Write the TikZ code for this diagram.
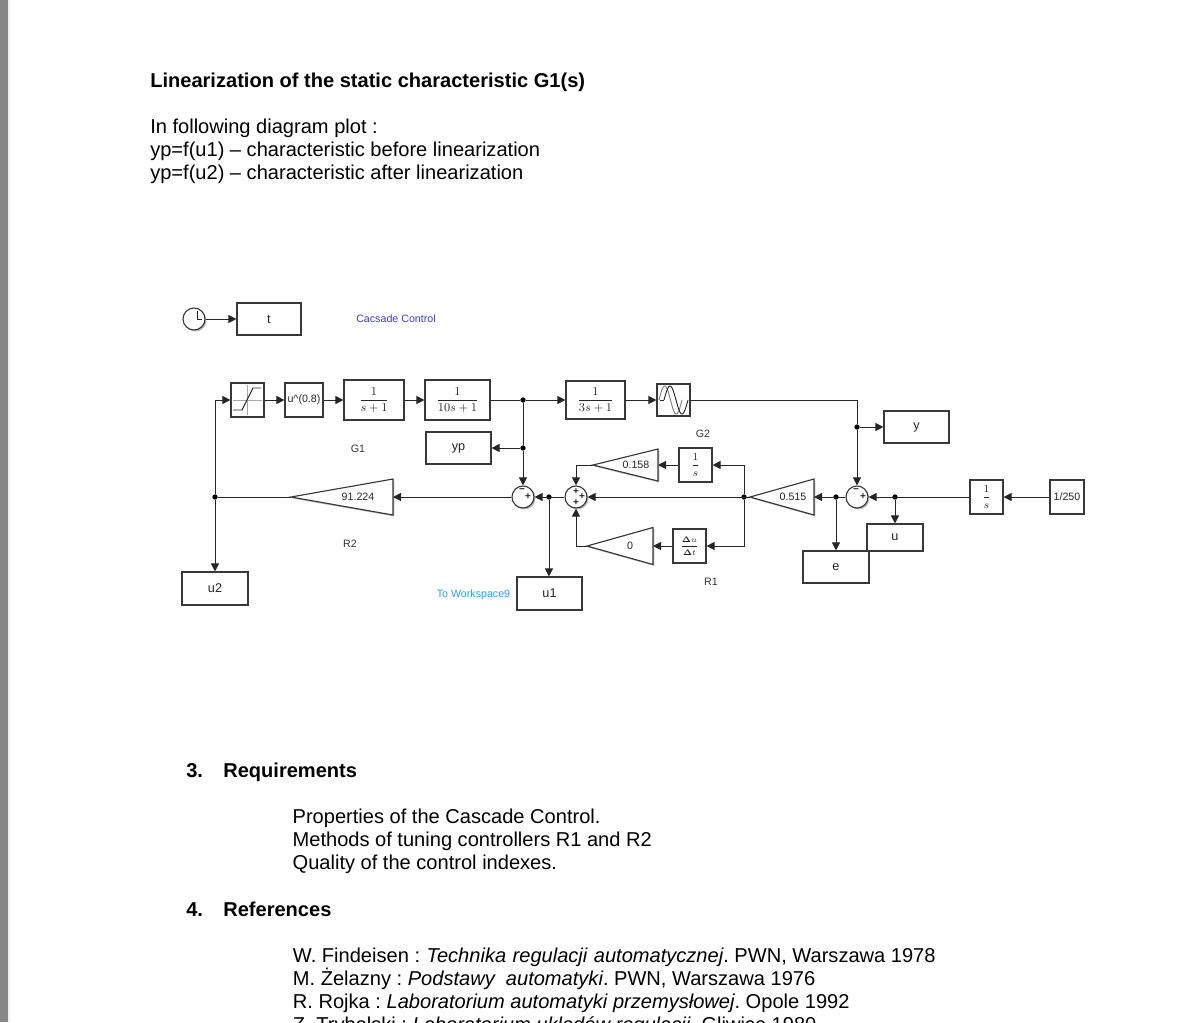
\documentclass[tikz,border=0pt]{standalone}
\usepackage[no-math]{fontspec}
\setmainfont{Liberation Sans}
\usetikzlibrary{arrows.meta,shadows,shapes.geometric,calc}
\definecolor{wirecol}{gray}{0.15}
\definecolor{boxcol}{gray}{0.22}
\definecolor{cacblue}{HTML}{3A3AE8}
\definecolor{wsblue}{HTML}{2C9CF5}
\frenchspacing
\tikzset{
  shad/.style={drop shadow={shadow xshift=1.1pt,shadow yshift=-1.1pt,fill=black!55,opacity=.5}},
  blk/.style={draw=boxcol,line width=0.85pt,fill=white,shad,rectangle,inner sep=0pt,font=\fontsize{9.5}{11}\selectfont,text=black!85},
  sblk/.style={blk,font=\fontsize{8}{10}\selectfont},
  summer/.style={draw=boxcol,line width=0.85pt,fill=white,shad,circle,inner sep=0pt,minimum size={22*0.75pt}},
  gainb/.style={draw=boxcol,line width=0.85pt,fill=white,shad,isosceles triangle,isosceles triangle stretches,shape border rotate=180,inner sep=0pt,outer sep=0pt,anchor=apex},
  gtxt/.style={font=\fontsize{8}{10}\selectfont,text=black!85,inner sep=0pt},
  dot/.style={circle,fill=black,inner sep=0pt,minimum size=4pt},
  wire/.style={draw=wirecol,line width=0.75pt},
  arr/.style={wire,-{Triangle[length=6pt,width=6pt]}},
  lab/.style={font=\fontsize{8}{10}\selectfont,text=black!80,inner sep=0pt},
  sign/.style={font=\fontsize{7.5}{8}\selectfont\bfseries,inner sep=0pt,text=black!85},
  body/.style={font=\fontsize{15.05}{18}\selectfont,anchor=base west,inner sep=0pt},
  bodyb/.style={font=\fontsize{15.05}{18}\selectfont\bfseries,anchor=base west,inner sep=0pt},
}
\newcommand\blkat[7][blk]{\node[#1,minimum width={(#5-#3)*0.75pt},minimum height={(#6-#4)*0.75pt}] (#2) at ({(#3+#5)/2},{(#4+#6)/2}) {#7};}
\newcommand\gainat[7]{\node[gainb,minimum height={(#4-#3)*0.75pt},minimum width={(#6)*0.75pt}] (#1) at (#3,#5) {};\node[gtxt] (#1t) at (#7,#5) {#2};}
\begin{document}
\begin{tikzpicture}[x=0.75pt,y=-0.75pt]
\useasboundingbox (0,0) rectangle (1204,1022);
\clip (0,0) rectangle (1204,1022);
\fill[white] (0,0) rectangle (1204,1022);
\fill[black!47] (0,0) rectangle (8,1022);
\fill[black!6] (8,0) rectangle (10,1022);
% text
\node[bodyb] (title) at (150,87) {Linearization of the static characteristic G1(s)};
\node[body] (p1) at (150,133) {In following diagram plot :};
\node[body] (p2) at (150,156) {yp=f(u1) – characteristic before linearization};
\node[body] (p3) at (150,179) {yp=f(u2) – characteristic after linearization};
\node[bodyb] (s3) at (186,777) {3.};
\node[bodyb] (s3t) at (223,777) {Requirements};
\node[body] (r1) at (292.4,823) {Properties of the Cascade Control.};
\node[body] (r2) at (292.4,846) {Methods of tuning controllers R1 and R2};
\node[body] (r3) at (292.4,869) {Quality of the control indexes.};
\node[bodyb] (s4) at (186,916) {4.};
\node[bodyb] (s4t) at (223,916) {References};
\node[body] (b1) at (292.7,962) {W. Findeisen :\hspace{.7pt} \textit{Technika\hspace{.7pt} regulacji\hspace{.7pt} automatycznej}. PWN, Warszawa 1978};
\node[body] (b2) at (292.7,985) {M. Żelazny : \textit{Podstawy\ \ automatyki}. PWN, Warszawa 1976};
\node[body] (b3) at (292.7,1008) {R. Rojka : \textit{Laboratorium automatyki przemysłowej}. Opole 1992};
\node[body] (b4) at (292.7,1031) {Z. Trybalski : \textit{Laboratorium układów regulacji}. Gliwice 1980};
% labels
\node[lab,text=cacblue] (cc) at (396,318.5) {Cacsade Control};
\node[lab] (lg1) at (358,449) {G1};
\node[lab] (lg2) at (703,434) {G2};
\node[lab] (lr2) at (350,543.5) {R2};
\node[lab] (lr1) at (711,581.5) {R1};
\node[lab,text=wsblue] (ws) at (473.5,595) {To Workspace9};
% blocks
\node[summer] (clk) at (194,319) {};
\blkat{tb}{237}{303}{301}{335}{t}
\blkat{sat}{231}{383}{264}{417}{}
\blkat[sblk]{pw}{285}{383}{323}{417}{u\textasciicircum(0.8)}
\blkat{gone}{344}{380}{404}{420}{$\displaystyle\frac{1}{s+1}$}
\blkat{gten}{425}{380}{490}{420}{$\displaystyle\frac{1}{10s+1}$}
\blkat{gthree}{566}{381}{625}{419}{$\displaystyle\frac{1}{3s+1}$}
\blkat{sine}{657}{384}{690}{416}{}
\blkat{yb}{884}{411}{949}{443}{y}
\blkat{yp}{426}{432}{491}{464}{yp}
\blkat{intg}{679}{448}{712}{482}{\fontsize{8}{9}\selectfont$\displaystyle\frac{1}{s}$}
\blkat{dlt}{673}{529}{706}{563}{\fontsize{6}{7}\selectfont$\displaystyle\frac{\mathbf{\Delta} u}{\mathbf{\Delta} t}$}
\blkat{eb}{803}{551}{869}{583}{e}
\blkat{ub}{867}{524}{923}{551}{u}
\blkat{intr}{970}{480}{1003}{514}{\fontsize{8}{9}\selectfont$\displaystyle\frac{1}{s}$}
\blkat[sblk]{rate}{1050}{480}{1084}{514}{1/250}
\blkat{utwo}{182}{572}{248}{605}{u2}
\blkat{uone}{517}{577}{582}{610}{u1}
\gainat{gr}{91.224}{291}{393}{497}{36}{358}
\gainat{ga}{0.158}{593}{658}{465}{32}{636}
\gainat{gb}{0}{587}{653}{546}{37}{630}
\gainat{gc}{0.515}{750}{814}{497}{36}{793}
\node[summer] (sl) at (523,497) {};
\node[summer] (sm) at (576,497) {};
\node[summer] (sr) at (857,497) {};
\node[sign] (sl1) at (522,491) {−};
\node[sign] (sl2) at (528,497) {+};
\node[sign] (sm1) at (576,491.5) {+};
\node[sign] (sm2) at (582,497) {+};
\node[sign] (sm3) at (576,502.5) {+};
\node[sign] (sr1) at (856,491) {−};
\node[sign] (sr2) at (863,497) {+};
% icons
\draw[black!35,line width=0.4pt] (247,385)--(247,415) (233,400)--(262,400);
\draw[black!85,line width=0.7pt] (233,410)--(242,410)--(253,388)--(261,388);
\draw[black!50,line width=0.7pt,domain=0:360,samples=50,smooth] plot ({659+\x/360*23},{400-14*sin(\x)});
\draw[black!85,line width=0.7pt] (660,400)--(664,400);
\draw[black!85,line width=0.7pt,domain=0:360,samples=50,smooth] plot ({664+\x/360*24},{400-14*sin(\x)});
\draw[black!85,line width=0.7pt] (197,311)--(197,319)--(202,319);
% junctions
\node[dot] (j1) at (523,400) {};
\node[dot] (j2) at (523,448) {};
\node[dot] (j3) at (549,497) {};
\node[dot] (j4) at (215,497) {};
\node[dot] (j5) at (744,497) {};
\node[dot] (j6) at (836,497) {};
\node[dot] (j7) at (895,497) {};
\node[dot] (j8) at (857,427) {};
% wires
\draw[arr] (clk) -- (tb);
\draw[arr] (sat) -- (pw);
\draw[arr] (pw) -- (gone);
\draw[arr] (gone) -- (gten);
\draw[wire] (gten) -- (j1);
\draw[arr] (j1) -- (gthree);
\draw[arr] (gthree) -- (sine);
\draw[wire] (sine) -| (j8);
\draw[arr] (j8) -- (yb);
\draw[arr] (j8) -- (sr);
\draw[wire] (j1) -- (j2);
\draw[arr] (j2) -- (yp);
\draw[arr] (j2) -- (sl);
\draw[arr] (sm) -- (sl);
\draw[arr] (j3) -- (j3 |- uone.north);
\draw[arr] (sl) -- (gr.lower side);
\draw[wire] (gr.apex) -- (j4);
\draw[arr] (j4) |- (sat);
\draw[arr] (j4) -- (utwo);
\draw[arr] (gc.apex) -- (sm);
\draw[arr] (j5) |- (intg);
\draw[arr] (j5) |- (dlt);
\draw[arr] (intg) -- (ga.lower side);
\draw[arr] (dlt) -- (gb.lower side);
\draw[arr] (ga.apex) -| (sm);
\draw[arr] (gb.apex) -| (sm);
\draw[arr] (sr) -- (gc.lower side);
\draw[arr] (j6) -- (eb);
\draw[arr] (j7) -- (ub);
\draw[arr] (intr) -- (sr);
\draw[arr] (rate) -- (intr);
\end{tikzpicture}
\end{document}
